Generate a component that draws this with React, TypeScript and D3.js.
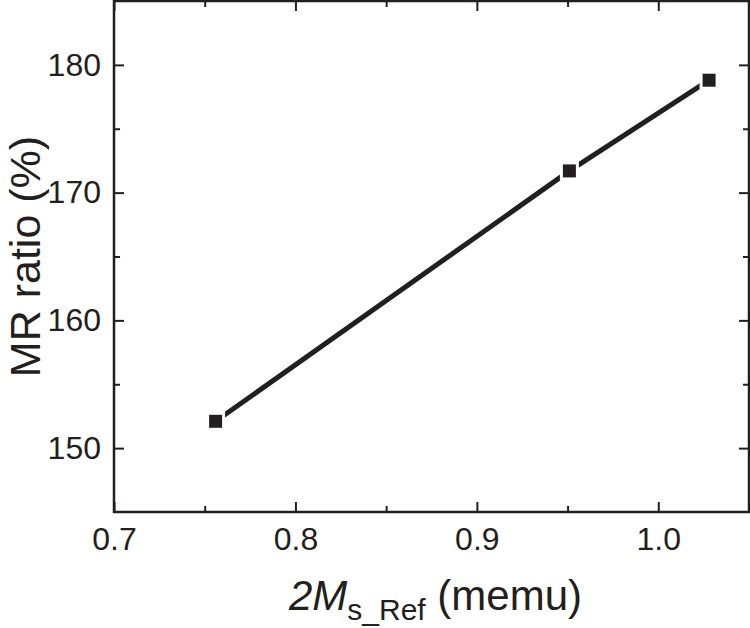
import React, { FC, useEffect, useRef, useMemo } from 'react'
import * as d3 from 'd3'

// values
const momentValues = [0.756, 0.951, 1.028]
const mrRatioValues = [152.1, 171.7, 178.8]
const xTickValues = [0.7, 0.8, 0.9, 1.0]
const yTickValues = [150, 160, 170, 180]
const xMinorValues = [0.75, 0.85, 0.95]
const yMinorValues = [155, 165, 175]

const W = 750
const H = 628
const margin = { top: 1, right: 1, bottom: 116, left: 114 }
const ink = '#231f20'
const font = '"Liberation Sans", Arial, Helvetica, sans-serif'

const App: FC = () => {
	const xAxisB = useRef<SVGGElement>(null)
	const xAxisT = useRef<SVGGElement>(null)
	const yAxisL = useRef<SVGGElement>(null)
	const yAxisR = useRef<SVGGElement>(null)

	const innerW = W - margin.left - margin.right
	const innerH = H - margin.top - margin.bottom

	const x = useMemo(() => d3.scaleLinear().domain([0.7, 1.05]).range([0, innerW]), [])
	const y = useMemo(() => d3.scaleLinear().domain([145, 185]).range([innerH, 0]), [])

	const points = momentValues.map((m, i) => ({ m, r: mrRatioValues[i] }))

	const line = d3
		.line<{ m: number; r: number }>()
		.x(d => x(d.m))
		.y(d => y(d.r))

	useEffect(() => {
		document.body.style.margin = '0'
		const style = (g: d3.Selection<SVGGElement, unknown, null, undefined>) => {
			g.select('.domain').remove()
			g.selectAll('line').attr('stroke', ink).attr('stroke-width', 2)
			g.selectAll('text').attr('fill', ink).style('font-family', font).style('font-size', '32px')
		}
		// major + minor ticks, pointing inward
		const draw = (
			el: SVGGElement | null,
			axis: (s: any) => d3.Axis<d3.NumberValue>,
			scale: d3.ScaleLinear<number, number>,
			major: number[],
			minor: number[],
			labels: boolean,
			fmt: (v: d3.NumberValue) => string
		) => {
			if (!el) return
			const g = d3.select(el)
			g.selectAll('*').remove()
			const gMinor = g.append('g')
			gMinor.call(axis(scale).tickValues(minor).tickSizeInner(-6).tickSizeOuter(0).tickFormat(() => ''))
			style(gMinor)
			const gMajor = g.append('g')
			gMajor.call(
				axis(scale)
					.tickValues(major)
					.tickSizeInner(-10)
					.tickSizeOuter(0)
					.tickFormat(labels ? fmt : () => '')
			)
			style(gMajor)
		}
		const fx = (v: d3.NumberValue) => d3.format('.1f')(v as number)
		const fy = (v: d3.NumberValue) => d3.format('d')(v as number)
		draw(xAxisB.current, d3.axisBottom, x, xTickValues, xMinorValues, true, fx)
		draw(xAxisT.current, d3.axisTop, x, xTickValues, xMinorValues, false, fx)
		draw(yAxisL.current, d3.axisLeft, y, yTickValues, yMinorValues, true, fy)
		draw(yAxisR.current, d3.axisRight, y, yTickValues, yMinorValues, false, fy)
		// labels sit outside though ticks point inward
		d3.select(xAxisB.current).selectAll('text').attr('y', 15)
		d3.select(yAxisL.current).selectAll('text').attr('x', -13)
	}, [])

	return (
		<svg width={W} height={H} style={{ display: 'block', background: '#fff' }}>
			<g transform={`translate(${margin.left},${margin.top})`}>
				<g ref={xAxisB} transform={`translate(0,${innerH})`}></g>
				<g ref={xAxisT}></g>
				<g ref={yAxisL}></g>
				<g ref={yAxisR} transform={`translate(${innerW},0)`}></g>
				<rect x={0} y={0} width={innerW} height={innerH} fill="none" stroke={ink} strokeWidth={2.5} />

				{/* data */}
				<path d={line(points) || ''} fill="none" stroke={ink} strokeWidth={5} />
				{points.map((d, i) => (
					<rect
						key={i}
						x={x(d.m) - 8}
						y={y(d.r) - 8}
						width={16}
						height={16}
						fill={ink}
						stroke="#fff"
						strokeWidth={3}
					/>
				))}
			</g>

			<text
				x={margin.left + innerW / 2 + 4}
				y={610}
				textAnchor="middle"
				fill={ink}
				style={{ fontFamily: font, fontSize: 42 }}
			>
				<tspan fontStyle="italic">2M</tspan>
				<tspan fontSize={30} dy={10}>s_Ref</tspan>
				<tspan dy={-10}> (memu)</tspan>
			</text>
			<text
				transform={`translate(40,${margin.top + innerH / 2}) rotate(-90)`}
				textAnchor="middle"
				fill={ink}
				style={{ fontFamily: font, fontSize: 43 }}
			>
				MR ratio (%)
			</text>
		</svg>
	)
}

export default App
